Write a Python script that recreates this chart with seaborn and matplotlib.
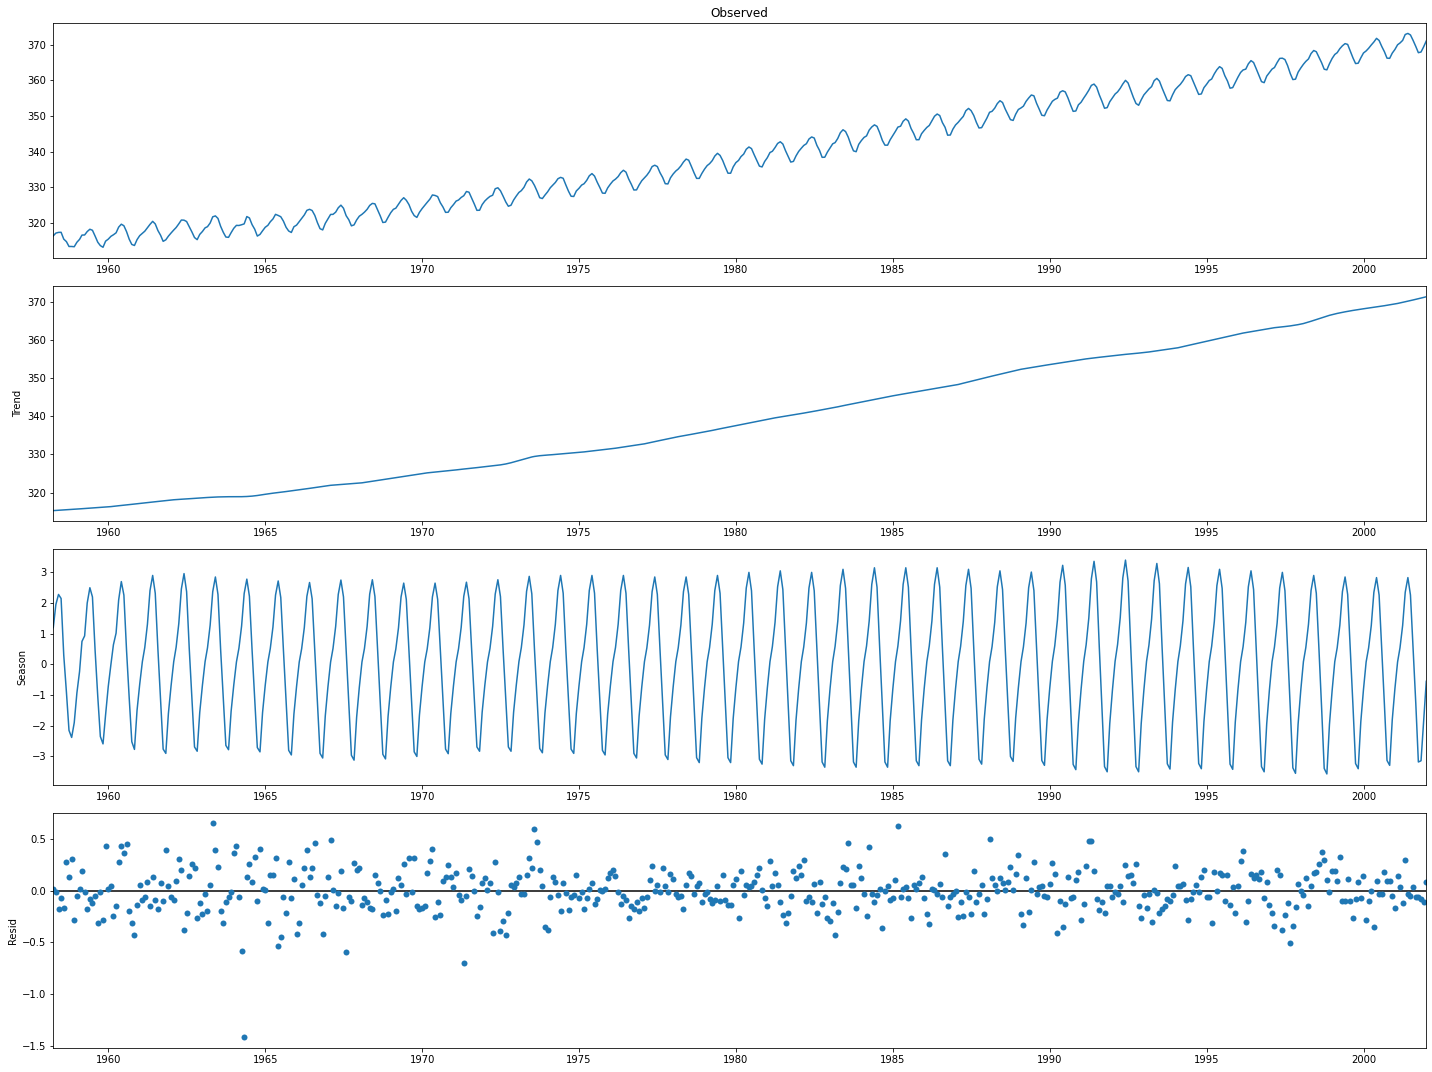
import matplotlib
matplotlib.use("Agg")
import matplotlib.pyplot as plt
import pandas as pd
import seaborn as sns

# monthly index, month-end stamps, Mar 1958 .. Dec 2001
dates = pd.date_range("1958-03-01", periods=526, freq="MS") + pd.offsets.MonthEnd(0)

# STL components, one line per year
trend = [
    315.25, 315.30, 315.34, 315.39, 315.43, 315.48, 315.52, 315.57, 315.61, 315.66,
    315.70, 315.75, 315.80, 315.85, 315.90, 315.95, 316.00, 316.05, 316.10, 316.15, 316.20, 316.25,
    316.30, 316.38, 316.45, 316.53, 316.60, 316.68, 316.75, 316.83, 316.90, 316.98, 317.05, 317.13,
    317.20, 317.28, 317.35, 317.43, 317.50, 317.58, 317.65, 317.73, 317.80, 317.88, 317.95, 318.03,
    318.10, 318.15, 318.19, 318.24, 318.28, 318.33, 318.38, 318.42, 318.47, 318.51, 318.56, 318.60,
    318.65, 318.70, 318.74, 318.78, 318.81, 318.84, 318.86, 318.88, 318.89, 318.90, 318.90, 318.90,
    318.90, 318.90, 318.91, 318.93, 318.96, 319.00, 319.06, 319.13, 319.22, 319.32, 319.43, 319.54,
    319.65, 319.74, 319.83, 319.91, 320.00, 320.09, 320.18, 320.26, 320.35, 320.44, 320.53, 320.61,
    320.70, 320.80, 320.90, 321.00, 321.10, 321.20, 321.30, 321.40, 321.50, 321.60, 321.70, 321.80,
    321.90, 321.95, 322.01, 322.06, 322.12, 322.17, 322.23, 322.28, 322.33, 322.39, 322.44, 322.50,
    322.55, 322.65, 322.76, 322.86, 322.97, 323.07, 323.18, 323.28, 323.38, 323.49, 323.59, 323.70,
    323.80, 323.91, 324.02, 324.13, 324.23, 324.34, 324.45, 324.56, 324.67, 324.78, 324.88, 324.99,
    325.10, 325.17, 325.24, 325.31, 325.38, 325.45, 325.53, 325.60, 325.67, 325.74, 325.81, 325.88,
    325.95, 326.03, 326.10, 326.18, 326.25, 326.33, 326.40, 326.48, 326.55, 326.63, 326.70, 326.78,
    326.85, 326.92, 327.00, 327.08, 327.17, 327.27, 327.38, 327.51, 327.66, 327.83, 328.02, 328.21,
    328.40, 328.60, 328.80, 329.00, 329.18, 329.35, 329.49, 329.60, 329.68, 329.75, 329.81, 329.86,
    329.90, 329.96, 330.02, 330.08, 330.13, 330.19, 330.25, 330.31, 330.37, 330.43, 330.48, 330.54,
    330.60, 330.68, 330.76, 330.84, 330.92, 331.00, 331.08, 331.15, 331.23, 331.31, 331.39, 331.47,
    331.55, 331.65, 331.76, 331.86, 331.97, 332.07, 332.18, 332.28, 332.38, 332.49, 332.59, 332.70,
    332.80, 332.95, 333.09, 333.24, 333.38, 333.53, 333.68, 333.82, 333.97, 334.11, 334.26, 334.40,
    334.55, 334.68, 334.80, 334.93, 335.05, 335.18, 335.30, 335.43, 335.55, 335.68, 335.80, 335.93,
    336.05, 336.19, 336.33, 336.48, 336.62, 336.76, 336.90, 337.04, 337.18, 337.33, 337.47, 337.61,
    337.75, 337.89, 338.03, 338.16, 338.30, 338.44, 338.58, 338.71, 338.85, 338.99, 339.13, 339.26,
    339.40, 339.51, 339.63, 339.74, 339.85, 339.96, 340.08, 340.19, 340.30, 340.41, 340.53, 340.64,
    340.75, 340.88, 341.00, 341.13, 341.25, 341.38, 341.50, 341.63, 341.75, 341.88, 342.00, 342.13,
    342.25, 342.39, 342.53, 342.68, 342.82, 342.96, 343.10, 343.24, 343.38, 343.53, 343.67, 343.81,
    343.95, 344.08, 344.22, 344.35, 344.48, 344.62, 344.75, 344.88, 345.02, 345.15, 345.28, 345.42,
    345.55, 345.67, 345.78, 345.90, 346.02, 346.13, 346.25, 346.37, 346.48, 346.60, 346.72, 346.83,
    346.95, 347.07, 347.19, 347.31, 347.43, 347.55, 347.68, 347.80, 347.92, 348.04, 348.16, 348.28,
    348.40, 348.57, 348.74, 348.91, 349.08, 349.25, 349.43, 349.60, 349.77, 349.94, 350.11, 350.28,
    350.45, 350.61, 350.78, 350.94, 351.10, 351.26, 351.43, 351.59, 351.75, 351.91, 352.08, 352.24,
    352.40, 352.51, 352.63, 352.74, 352.85, 352.96, 353.08, 353.19, 353.30, 353.41, 353.53, 353.64,
    353.75, 353.86, 353.97, 354.08, 354.18, 354.29, 354.40, 354.51, 354.62, 354.73, 354.83, 354.94,
    355.05, 355.13, 355.22, 355.30, 355.38, 355.47, 355.55, 355.63, 355.72, 355.80, 355.88, 355.97,
    356.05, 356.12, 356.18, 356.25, 356.32, 356.38, 356.45, 356.52, 356.58, 356.65, 356.72, 356.78,
    356.85, 356.95, 357.05, 357.15, 357.25, 357.35, 357.45, 357.55, 357.65, 357.75, 357.85, 357.95,
    358.05, 358.20, 358.36, 358.51, 358.67, 358.82, 358.98, 359.13, 359.28, 359.44, 359.59, 359.75,
    359.90, 360.06, 360.22, 360.38, 360.53, 360.69, 360.85, 361.01, 361.17, 361.33, 361.48, 361.64,
    361.80, 361.92, 362.04, 362.16, 362.28, 362.40, 362.53, 362.65, 362.77, 362.89, 363.01, 363.13,
    363.25, 363.33, 363.40, 363.47, 363.55, 363.63, 363.71, 363.80, 363.90, 364.01, 364.13, 364.27,
    364.42, 364.60, 364.80, 365.02, 365.25, 365.48, 365.72, 365.95, 366.17, 366.38, 366.58, 366.76,
    366.93, 367.08, 367.23, 367.37, 367.50, 367.63, 367.75, 367.87, 367.98, 368.09, 368.20, 368.30,
    368.40, 368.50, 368.60, 368.70, 368.80, 368.90, 369.00, 369.11, 369.22, 369.33, 369.45, 369.57,
    369.70, 369.85, 370.00, 370.15, 370.30, 370.46, 370.62, 370.78, 370.95, 371.12, 371.29, 371.46,
]

season = [
    1.20, 1.95, 2.28, 2.15, 0.30, -0.90, -2.15, -2.38, -1.90, -0.93,
    -0.23, 0.75, 0.93, 2.00, 2.50, 2.20, 0.45, -1.05, -2.35, -2.59, -1.64, -0.72,
    0.00, 0.64, 1.02, 2.10, 2.70, 2.26, 0.45, -1.10, -2.52, -2.77, -1.50, -0.65,
    0.09, 0.55, 1.31, 2.41, 2.90, 2.32, 0.49, -1.16, -2.76, -2.90, -1.60, -0.70,
    0.09, 0.56, 1.33, 2.46, 2.96, 2.37, 0.50, -1.13, -2.69, -2.83, -1.56, -0.68,
    0.09, 0.54, 1.28, 2.37, 2.85, 2.28, 0.48, -1.11, -2.64, -2.78, -1.53, -0.67,
    0.08, 0.53, 1.25, 2.31, 2.78, 2.22, 0.47, -1.14, -2.71, -2.85, -1.57, -0.68,
    0.08, 0.52, 1.22, 2.26, 2.72, 2.18, 0.46, -1.18, -2.80, -2.95, -1.62, -0.71,
    0.08, 0.51, 1.20, 2.22, 2.67, 2.14, 0.45, -1.22, -2.90, -3.05, -1.68, -0.73,
    0.08, 0.52, 1.24, 2.28, 2.75, 2.20, 0.47, -1.25, -2.96, -3.12, -1.72, -0.75,
    0.08, 0.52, 1.24, 2.29, 2.76, 2.21, 0.47, -1.23, -2.93, -3.08, -1.69, -0.74,
    0.08, 0.50, 1.19, 2.20, 2.65, 2.12, 0.45, -1.20, -2.85, -3.00, -1.65, -0.72,
    0.08, 0.50, 1.19, 2.20, 2.65, 2.12, 0.45, -1.16, -2.76, -2.91, -1.60, -0.70,
    0.08, 0.51, 1.21, 2.22, 2.68, 2.14, 0.46, -1.13, -2.69, -2.83, -1.56, -0.68,
    0.08, 0.52, 1.24, 2.29, 2.76, 2.21, 0.47, -1.13, -2.69, -2.83, -1.56, -0.68,
    0.09, 0.55, 1.29, 2.38, 2.87, 2.30, 0.49, -1.15, -2.74, -2.88, -1.58, -0.69,
    0.09, 0.55, 1.31, 2.41, 2.90, 2.32, 0.49, -1.16, -2.76, -2.90, -1.60, -0.70,
    0.09, 0.55, 1.31, 2.41, 2.90, 2.32, 0.49, -1.18, -2.80, -2.95, -1.62, -0.71,
    0.09, 0.55, 1.31, 2.41, 2.90, 2.32, 0.49, -1.22, -2.90, -3.05, -1.68, -0.73,
    0.09, 0.54, 1.28, 2.37, 2.85, 2.28, 0.48, -1.24, -2.95, -3.10, -1.71, -0.74,
    0.09, 0.54, 1.28, 2.37, 2.85, 2.28, 0.48, -1.28, -3.04, -3.20, -1.76, -0.77,
    0.09, 0.55, 1.31, 2.41, 2.90, 2.32, 0.49, -1.28, -3.04, -3.20, -1.76, -0.77,
    0.09, 0.57, 1.35, 2.49, 3.00, 2.40, 0.51, -1.30, -3.09, -3.25, -1.79, -0.78,
    0.09, 0.58, 1.37, 2.53, 3.05, 2.44, 0.52, -1.32, -3.14, -3.30, -1.82, -0.79,
    0.09, 0.57, 1.35, 2.49, 3.00, 2.40, 0.51, -1.34, -3.18, -3.35, -1.84, -0.80,
    0.09, 0.59, 1.40, 2.57, 3.10, 2.48, 0.53, -1.34, -3.18, -3.35, -1.84, -0.80,
    0.09, 0.60, 1.42, 2.61, 3.15, 2.52, 0.54, -1.34, -3.18, -3.35, -1.84, -0.80,
    0.09, 0.60, 1.42, 2.61, 3.15, 2.52, 0.54, -1.32, -3.14, -3.30, -1.82, -0.79,
    0.09, 0.60, 1.42, 2.61, 3.15, 2.52, 0.54, -1.32, -3.14, -3.30, -1.82, -0.79,
    0.09, 0.59, 1.40, 2.57, 3.10, 2.48, 0.53, -1.30, -3.09, -3.25, -1.79, -0.78,
    0.09, 0.58, 1.37, 2.53, 3.05, 2.44, 0.52, -1.26, -3.00, -3.16, -1.74, -0.76,
    0.09, 0.57, 1.35, 2.50, 3.01, 2.41, 0.51, -1.32, -3.13, -3.29, -1.81, -0.79,
    0.10, 0.61, 1.45, 2.68, 3.23, 2.58, 0.55, -1.37, -3.26, -3.43, -1.89, -0.82,
    0.10, 0.64, 1.51, 2.79, 3.36, 2.69, 0.57, -1.40, -3.33, -3.50, -1.93, -0.84,
    0.10, 0.65, 1.53, 2.82, 3.40, 2.72, 0.58, -1.40, -3.33, -3.50, -1.93, -0.84,
    0.10, 0.63, 1.48, 2.73, 3.29, 2.63, 0.56, -1.36, -3.24, -3.41, -1.88, -0.82,
    0.09, 0.60, 1.42, 2.62, 3.16, 2.53, 0.54, -1.36, -3.23, -3.40, -1.87, -0.82,
    0.09, 0.59, 1.40, 2.57, 3.10, 2.48, 0.53, -1.37, -3.25, -3.42, -1.88, -0.82,
    0.09, 0.58, 1.37, 2.53, 3.05, 2.44, 0.52, -1.40, -3.33, -3.50, -1.93, -0.84,
    0.09, 0.57, 1.35, 2.49, 3.00, 2.40, 0.51, -1.42, -3.37, -3.55, -1.95, -0.85,
    0.09, 0.55, 1.31, 2.41, 2.90, 2.32, 0.49, -1.43, -3.39, -3.57, -1.96, -0.86,
    0.09, 0.54, 1.28, 2.37, 2.85, 2.28, 0.48, -1.36, -3.23, -3.40, -1.87, -0.82,
    0.08, 0.54, 1.27, 2.35, 2.83, 2.26, 0.48, -1.32, -3.13, -3.29, -1.81, -0.79,
    0.08, 0.54, 1.27, 2.35, 2.83, 2.26, 0.48, -1.27, -3.18, -3.14, -1.85, -0.55,
]

resid = [
    0.02, -0.01, -0.18, -0.07, -0.17, 0.28, 0.13, 0.31, -0.28, -0.05,
    0.02, 0.19, -0.01, -0.18, -0.08, -0.12, -0.05, -0.31, -0.01, -0.28, 0.43, 0.02,
    0.04, -0.25, -0.15, 0.28, 0.43, 0.36, 0.45, -0.20, -0.31, -0.43, -0.14, 0.05,
    -0.09, -0.06, 0.08, -0.15, 0.13, -0.09, -0.18, 0.07, -0.10, 0.39, 0.04, -0.06,
    -0.09, 0.09, 0.31, 0.20, -0.38, -0.22, 0.14, 0.26, 0.22, -0.27, -0.12, -0.23,
    -0.03, -0.20, 0.05, 0.65, 0.39, 0.23, -0.20, -0.31, -0.11, -0.06, -0.01, 0.36,
    0.43, -0.06, -0.58, -1.42, 0.13, 0.26, 0.08, 0.33, -0.10, 0.40, 0.02, 0.01,
    -0.31, 0.15, 0.15, 0.32, -0.54, -0.45, -0.06, -0.22, 0.28, -0.07, 0.11, -0.42,
    -0.31, 0.05, 0.22, 0.39, 0.13, 0.22, 0.46, -0.04, -0.12, -0.42, -0.05, 0.13,
    0.49, 0.01, -0.15, -0.02, 0.19, -0.17, -0.59, -0.06, -0.10, 0.27, 0.20, 0.22,
    -0.14, -0.07, -0.11, -0.17, -0.18, 0.15, 0.07, 0.00, -0.24, -0.09, -0.23, -0.01,
    0.02, -0.20, 0.12, 0.05, 0.26, -0.03, 0.32, -0.01, 0.32, -0.15, -0.18, -0.17,
    -0.15, 0.17, 0.29, 0.40, -0.26, -0.11, -0.24, 0.09, 0.13, 0.25, 0.13, 0.03,
    0.17, -0.04, -0.09, -0.70, -0.05, 0.21, 0.14, 0.00, -0.25, -0.16, 0.07, 0.12,
    0.01, 0.07, -0.41, 0.28, -0.01, -0.39, -0.29, -0.43, -0.22, 0.05, 0.03, 0.07,
    0.13, -0.03, -0.03, 0.15, 0.32, 0.22, 0.60, 0.47, 0.20, 0.04, -0.35, -0.38,
    -0.06, 0.13, 0.08, -0.04, -0.20, 0.07, -0.02, -0.19, -0.06, -0.04, 0.15, -0.07,
    -0.01, -0.18, -0.07, 0.02, 0.07, -0.13, -0.08, 0.01, 0.00, 0.02, 0.12, 0.17,
    0.20, 0.14, -0.01, -0.13, -0.05, -0.09, -0.27, -0.15, -0.18, -0.11, -0.20, -0.07,
    -0.17, -0.06, 0.10, 0.24, 0.00, 0.05, -0.01, 0.22, 0.04, -0.01, 0.16, 0.11,
    -0.03, -0.06, -0.05, -0.18, 0.05, 0.17, 0.14, -0.03, 0.04, 0.07, -0.11, -0.03,
    -0.01, -0.08, -0.12, -0.09, 0.04, -0.10, 0.15, -0.09, -0.14, -0.14, 0.05, 0.11,
    -0.27, 0.19, -0.04, 0.05, 0.03, 0.04, 0.08, 0.15, 0.22, 0.01, -0.07, -0.15,
    0.29, 0.04, 0.17, 0.05, -0.11, -0.24, -0.31, -0.22, -0.05, 0.19, 0.12, 0.24,
    0.15, 0.30, -0.10, -0.06, -0.11, 0.06, -0.22, 0.08, -0.13, -0.06, -0.27, -0.29,
    -0.12, -0.43, -0.21, 0.07, 0.23, 0.21, 0.46, 0.05, 0.05, -0.17, 0.24, 0.12,
    -0.03, -0.25, 0.42, -0.03, -0.11, -0.04, 0.02, -0.36, 0.00, 0.04, -0.09, -0.07,
    0.10, 0.63, -0.06, 0.02, 0.03, -0.07, -0.27, 0.05, 0.02, 0.07, 0.13, -0.07,
    -0.23, -0.32, 0.02, 0.01, -0.03, 0.06, -0.06, 0.35, -0.15, -0.06, -0.03, 0.00,
    -0.26, -0.11, -0.25, -0.01, -0.06, -0.23, 0.19, -0.11, -0.03, 0.05, -0.23, -0.08,
    0.50, 0.12, 0.05, 0.00, 0.12, 0.07, 0.01, 0.08, 0.23, 0.01, 0.16, 0.34,
    -0.23, -0.33, 0.12, -0.21, 0.01, 0.28, -0.03, 0.03, 0.04, -0.05, -0.06, 0.06,
    0.27, 0.16, -0.41, -0.10, -0.35, -0.13, 0.13, -0.07, -0.06, 0.10, 0.18, -0.28,
    -0.13, 0.24, 0.48, 0.48, 0.19, -0.08, -0.19, -0.11, -0.22, 0.04, 0.04, -0.06,
    -0.01, -0.03, 0.04, -0.11, 0.25, 0.14, 0.15, 0.07, 0.26, -0.15, -0.27, -0.04,
    -0.17, -0.03, -0.30, 0.01, -0.02, -0.22, -0.18, -0.15, -0.08, -0.10, -0.04, 0.24,
    0.04, 0.04, 0.06, -0.09, -0.28, -0.08, -0.01, 0.05, -0.01, 0.13, 0.20, -0.06,
    -0.06, -0.31, 0.18, 0.00, 0.17, 0.15, -0.10, 0.15, -0.14, 0.03, -0.22, 0.04,
    0.29, 0.38, -0.30, -0.10, 0.16, 0.12, 0.15, 0.11, 0.18, -0.07, 0.08, -0.14,
    -0.22, -0.34, 0.20, 0.15, -0.38, -0.24, -0.12, -0.51, -0.34, -0.16, 0.06, 0.00,
    -0.04, 0.12, -0.15, 0.04, 0.17, 0.18, 0.26, 0.37, 0.30, 0.10, -0.01, 0.19,
    0.19, 0.09, 0.33, -0.10, -0.10, 0.11, -0.10, -0.27, -0.08, 0.08, -0.07, 0.14,
    -0.28, -0.10, 0.00, -0.35, 0.09, -0.03, -0.03, 0.18, 0.09, 0.09, -0.05, -0.17,
    0.14, 0.03, -0.12, 0.30, -0.03, -0.05, 0.03, -0.06, -0.06, -0.08, -0.11, 0.08,
]

df = pd.DataFrame({"date": dates, "trend": trend, "season": season, "resid": resid})
# the observed series is the sum of the three components
df["observed"] = df["trend"] + df["season"] + df["resid"]

fig, axes = plt.subplots(4, 1, figsize=(1432 / 72, 1072 / 72), dpi=72)
xlim = (df["date"].iloc[0], df["date"].iloc[-1])

sns.lineplot(data=df, x="date", y="observed", ax=axes[0], color="#1f77b4")
axes[0].set_title("Observed")
axes[0].set_ylabel("")

sns.lineplot(data=df, x="date", y="trend", ax=axes[1], color="#1f77b4")
axes[1].set_ylabel("Trend")

sns.lineplot(data=df, x="date", y="season", ax=axes[2], color="#1f77b4")
axes[2].set_ylabel("Season")

sns.scatterplot(data=df, x="date", y="resid", ax=axes[3], color="#1f77b4", s=36, linewidth=0)
axes[3].plot(xlim, (0, 0), color="#000000", zorder=-3)
axes[3].set_ylabel("Resid")

for ax in axes:
    ax.set_xlim(xlim)
    ax.set_xlabel("")

fig.subplots_adjust(left=0.0372, right=0.996, bottom=0.0224, top=0.9788, hspace=0.1195)
fig.savefig("out.png", dpi=72)
